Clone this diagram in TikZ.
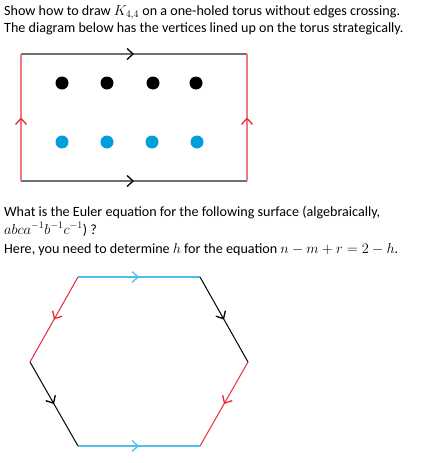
\documentclass[tikz,border=0pt]{standalone}
\usepackage{amsmath,amssymb}
\usepackage{fontspec}
\setmainfont{Carlito}
\usepackage{xcolor}
\usetikzlibrary{positioning,arrows.meta,decorations.markings}

\definecolor{edgegray}{HTML}{707070}
\definecolor{edgepink}{HTML}{F07A80}
\definecolor{edgered}{HTML}{E8283A}
\definecolor{dotblue}{HTML}{009FD8}
\definecolor{hexblue}{HTML}{50BEEA}

\begin{document}
\begin{tikzpicture}[x=1pt, y=-1pt,
		textline/.style={anchor=base west, inner sep=0pt, font=\fontsize{14.1}{17}\selectfont},
		blackdot/.style={circle, fill=black, inner sep=0pt, minimum size=13pt},
		bluedot/.style={circle, fill=dotblue, inner sep=0pt, minimum size=13pt},
		midarrow/.style={postaction={decorate, decoration={markings,
			mark=at position 0.5 with {\arrow[#1]{Straight Barb[length=6pt, width=11pt, line width=1.3pt]}}}}},
	]
		\useasboundingbox (0,0) rectangle (425,463);

		% text
		\node[textline] (q1a) at (4,15) {Show how to draw $K_{4,4}$ on a one-holed torus without edges crossing.};
		\node[textline] (q1b) at (4,32) {The diagram below has the vertices lined up on the torus strategically.};
		\node[textline] (q2a) at (4,216) {What is the Euler equation for the following surface (algebraically,};
		\node[textline] (q2b) at (4,234) {$abca^{-1}b^{-1}c^{-1}$) ?};
		\node[textline] (q2c) at (4,253) {Here, you need to determine $h$ for the equation $n-m+r=2-h$.};

		% torus corners
		\coordinate (tl) at (21,54);
		\coordinate (tr) at (247,54);
		\coordinate (bl) at (21,181);
		\coordinate (br) at (247,181);

		% vertices
		\node[blackdot] (b1) at (62,83)  {};
		\node[blackdot] (b2) at (107,83) {};
		\node[blackdot] (b3) at (153,83) {};
		\node[blackdot] (b4) at (196,83) {};
		\node[bluedot] (c1) at (62,142)  {};
		\node[bluedot] (c2) at (107,142) {};
		\node[bluedot] (c3) at (152,142) {};
		\node[bluedot] (c4) at (197,142) {};

		% torus edges
		\draw[edgegray, line width=2pt, midarrow=black] (tl) -- (tr);
		\draw[edgegray, line width=2pt, midarrow=black] (bl) -- (br);
		\draw[edgepink, line width=2pt, midarrow=edgered] (bl) -- (tl);
		\draw[edgepink, line width=2pt, midarrow=edgered] (br) -- (tr);

		% hexagon corners
		\coordinate (h1) at (78,277);
		\coordinate (h2) at (200,277);
		\coordinate (h3) at (248,362);
		\coordinate (h4) at (200,446);
		\coordinate (h5) at (78,446);
		\coordinate (h6) at (30,362);

		% hexagon edges
		\draw[hexblue, line width=1.8pt, midarrow=hexblue] (h1) -- (h2);
		\draw[black, line width=1pt, midarrow=black] (h2) -- (h3);
		\draw[edgered, line width=1pt, midarrow=edgered] (h3) -- (h4);
		\draw[hexblue, line width=1.8pt, midarrow=hexblue] (h5) -- (h4);
		\draw[black, line width=1pt, midarrow=black] (h6) -- (h5);
		\draw[edgered, line width=1pt, midarrow=edgered] (h1) -- (h6);
	\end{tikzpicture}
\end{document}
